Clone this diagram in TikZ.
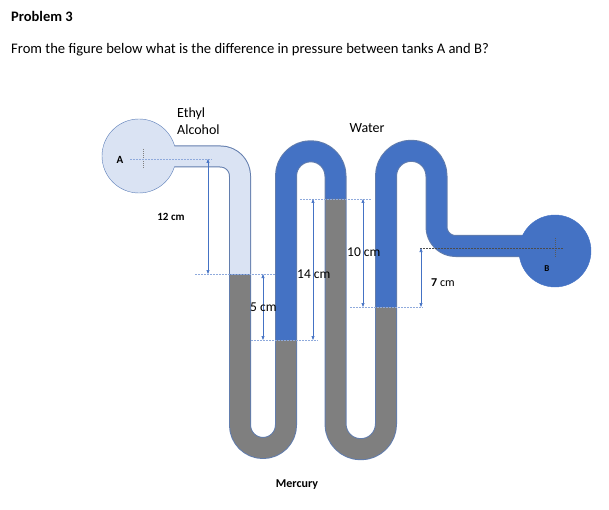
\documentclass[tikz,border=0pt]{standalone}
\usepackage{fontspec}
\setmainfont{Carlito}
\usetikzlibrary{arrows.meta}
\definecolor{lb}{HTML}{DAE3F3}
\definecolor{bl}{HTML}{4472C4}
\definecolor{gr}{HTML}{7F7F7F}
\definecolor{edge}{HTML}{5B7DB8}
\definecolor{dim}{HTML}{4472C4}
\begin{document}
\begin{tikzpicture}[x=1pt,y=1pt,yscale=-1,
  pipe/.style={line width=20pt,line cap=butt,line join=round},
  dimline/.style={dim,line width=0.6pt,{Triangle[length=4pt,width=3pt]}-{Triangle[length=4pt,width=3pt]}},
  lvl/.style={dim!60,line width=0.6pt,dash pattern=on 1.5pt off 1.5pt},
  lab/.style={font=\fontsize{13.5}{15.5}\selectfont,inner sep=0pt},
  blab/.style={font=\fontsize{11}{13}\selectfont\bfseries,inner sep=0pt}]
\useasboundingbox (0,0) rectangle (609,510);
% outline of whole pipe
\draw[pipe,line width=22pt,edge!80!gray]
 (170,156.5) -- (220.5,156.5) arc[start angle=270,end angle=360,radius=19.5pt] -- (240,425) arc[start angle=180,end angle=0,radius=23pt] -- (286,176) arc[start angle=180,end angle=360,radius=24.75pt] -- (335.5,424) arc[start angle=180,end angle=0,radius=25.25pt] -- (386,176) arc[start angle=180,end angle=360,radius=25.25pt] -- (436.5,227) arc[start angle=180,end angle=90,radius=19pt] -- (525,246);
% tanks
\node[circle,draw=edge,fill=lb,minimum size=74pt,inner sep=0pt] (A) at (139,156) {};
\node[circle,draw=bl,fill=bl,minimum size=72pt,inner sep=0pt] (B) at (555,251) {};
% fills
\draw[pipe,lb] (170,156.5) -- (220.5,156.5) arc[start angle=270,end angle=360,radius=19.5pt] -- (240,274);
\fill[lb] (120,147.5) rectangle (176,165.5);
\draw[pipe,gr] (240,274) -- (240,425) arc[start angle=180,end angle=0,radius=23pt] -- (286,340);
\draw[pipe,bl] (286,340) -- (286,176) arc[start angle=180,end angle=360,radius=24.75pt] -- (335.5,199);
\draw[pipe,gr] (335.5,199) -- (335.5,424) arc[start angle=180,end angle=0,radius=25.25pt] -- (386,307);
\draw[pipe,bl] (386,307) -- (386,176) arc[start angle=180,end angle=360,radius=25.25pt] -- (436.5,227) arc[start angle=180,end angle=90,radius=19pt] -- (530,246);
\draw[line width=0.8pt,edge] (230,274) -- (250,274);
% crosshairs
\draw[gray,line width=0.5pt,dash pattern=on 1pt off 1pt] (143,149) -- (143,169);
\draw[gray!70!black,line width=0.5pt,dash pattern=on 1pt off 1pt] (555,238) -- (555,258);
% level lines
\coordinate (a1) at (130,159); \coordinate (a2) at (212,159);
\coordinate (b1) at (195,274); \coordinate (b2) at (275,274);
\coordinate (c1) at (251,340); \coordinate (c2) at (318,340);
\coordinate (d1) at (300,199); \coordinate (d2) at (371,199);
\coordinate (e1) at (350,307); \coordinate (e2) at (423,307);
\coordinate (f1) at (420,248); \coordinate (f2) at (564,248);
\draw[lvl] (a1) -- (a2); \draw[lvl] (b1) -- (b2); \draw[lvl] (c1) -- (c2);
\draw[lvl] (d1) -- (d2); \draw[lvl] (e1) -- (e2);
\draw[line width=0.6pt,black!70,dash pattern=on 1.5pt off 1.5pt] (f1) -- (f2);
% dimensions
\coordinate (p1) at (208,159); \coordinate (p2) at (208,274);
\coordinate (q1) at (263,274); \coordinate (q2) at (263,340);
\coordinate (r1) at (313,199); \coordinate (r2) at (313,340);
\coordinate (s1) at (363,199); \coordinate (s2) at (363,307);
\coordinate (t1) at (421,248); \coordinate (t2) at (421,307);
\draw[dimline] (p1) -- (p2); \draw[dimline] (q1) -- (q2);
\draw[dimline] (r1) -- (r2); \draw[dimline] (s1) -- (s2);
\draw[dimline] (t1) -- (t2);
% labels
\node[lab,anchor=west] (l5) at (250,307) {5 cm};
\node[lab,anchor=west] (l14) at (297,274) {14 cm};
\node[lab,anchor=west] (l10) at (347,252) {10 cm};
\node[lab,anchor=west,font=\fontsize{12}{14}\selectfont] (l7) at (431,283) {\textbf{7} cm};
\node[blab] (l12) at (171,217) {12 cm};
\node[blab] (lA) at (120,160) {A};
\node[blab,font=\fontsize{9}{11}\selectfont\bfseries] (lB) at (547,269) {B};
\node[lab,anchor=west,align=left,font=\fontsize{14}{17}\selectfont] (eth) at (177,121) {Ethyl\\Alcohol};
\node[lab,font=\fontsize{14}{17}\selectfont] (wat) at (367,128) {Water};
\node[blab,font=\fontsize{12}{14}\selectfont\bfseries] (hg) at (297,485) {Mercury};
\node[anchor=west,inner sep=0pt,font=\fontsize{14.5}{17}\selectfont\bfseries] (t) at (11,16) {Problem 3};
\node[anchor=west,inner sep=0pt,font=\fontsize{14.6}{17}\selectfont] (q) at (11,50) {From the figure below what is the difference in pressure between tanks A and B?};
\end{tikzpicture}
\end{document}
